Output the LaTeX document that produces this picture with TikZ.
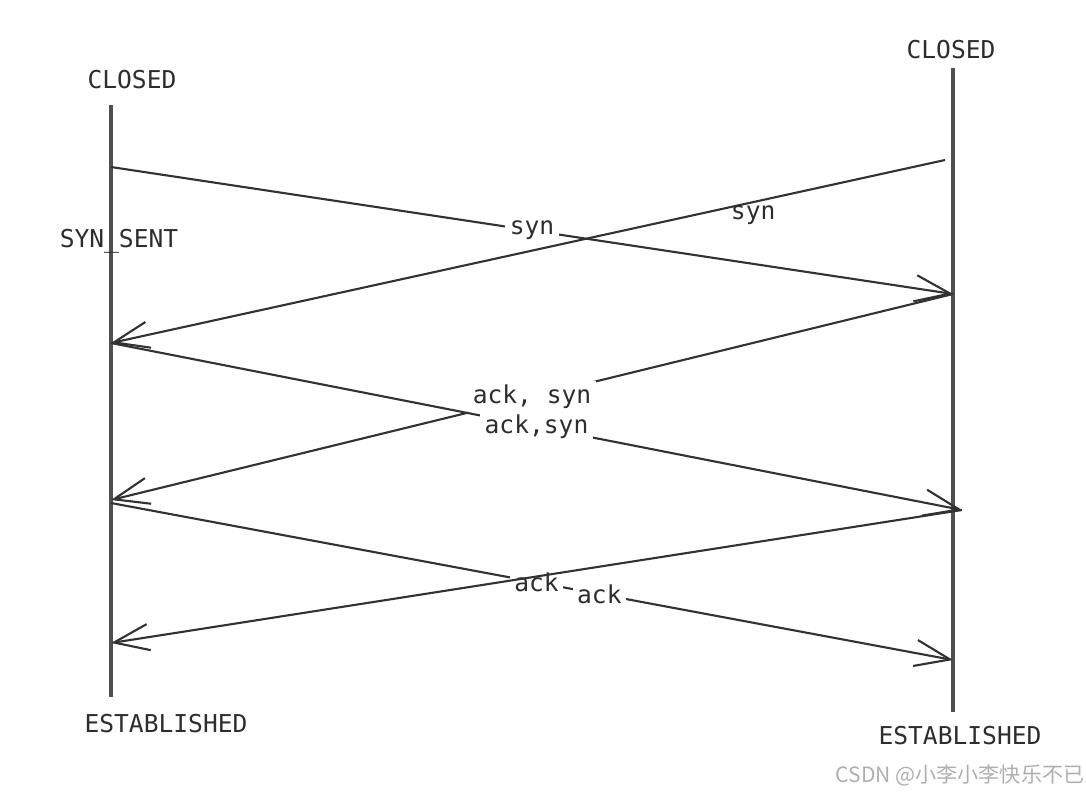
\documentclass[tikz,border=0pt]{standalone}
\usepackage{fontspec}
\setmonofont{DejaVu Sans Mono}
\newfontfamily\cjk{Noto Sans CJK SC}
\usetikzlibrary{arrows.meta, positioning, calc}
\definecolor{lineink}{RGB}{50, 50, 50}
\definecolor{poleink}{RGB}{80, 80, 80}
\definecolor{textink}{RGB}{45, 45, 45}
\definecolor{markgray}{RGB}{175, 175, 175}

\begin{document}
\begin{tikzpicture}[
  lifeline/.style={draw=poleink, line width=1.8pt},
  msg/.style={draw=lineink, line width=1.2pt, -{Straight Barb[length=20pt, width=15pt, line width=1.2pt]}},
  statelbl/.style={text=textink, font=\ttfamily\fontsize{14}{16}\selectfont, inner sep=1pt},
  msglbl/.style={text=textink, font=\ttfamily\fontsize{14}{16}\selectfont, inner sep=2.5pt},
  gap/.style={fill=white}
]
  \useasboundingbox (0, 0) rectangle (21.72, -15.84);

  % Two lifelines
  \coordinate (ltop) at (2.22, -2.10);
  \coordinate (lbot) at (2.22, -13.94);
  \coordinate (rtop) at (19.06, -1.36);
  \coordinate (rbot) at (19.06, -14.24);
  \draw[lifeline] (ltop) -- (lbot);
  \draw[lifeline] (rtop) -- (rbot);

  % States
  \node[statelbl] (lclosed) at (2.64, -1.60) {CLOSED};
  \node[statelbl] (rclosed) at (19.02, -1.00) {CLOSED};
  \node[statelbl] (synsent) at (2.38, -4.82) {SYN\_SENT};
  \node[statelbl] (lestab) at (3.32, -14.48) {ESTABLISHED};
  \node[statelbl] (restab) at (19.20, -14.72) {ESTABLISHED};

  % Message end points
  \coordinate (lsyn) at (2.22, -3.34);
  \coordinate (rsyn) at (18.90, -3.20);
  \coordinate (rsynin) at (19.06, -5.88);
  \coordinate (lsynin) at (2.22, -6.86);
  \coordinate (rack) at (19.24, -10.20);
  \coordinate (lackin) at (2.22, -10.00);
  \coordinate (lack) at (2.22, -10.06);
  \coordinate (rackin) at (19.06, -13.20);
  \coordinate (lfin) at (2.22, -12.86);

  % syn crossing
  \draw[msg] (lsyn) -- node[msglbl, gap, pos=0.5] (syna) {syn} (rsynin);
  \draw[msg] (rsyn) -- node[msglbl, pos=0.23, yshift=-0.27cm] (synb) {syn} (lsynin);

  % ack, syn crossing
  \draw[msg] (rsynin) -- node[msglbl, gap, pos=0.5] (acksyna) {ack, syn} (lackin);
  \draw[msg] (lsynin) -- node[msglbl, gap, pos=0.5] (acksynb) {ack,syn} (rack);

  % ack crossing
  \draw[msg] (lack) -- node[msglbl, gap, pos=0.58] (acka) {ack} (rackin);
  \draw[msg] (rack) -- node[msglbl, gap, behind path, pos=0.5, yshift=-0.12cm] (ackb) {ack} (lfin);

  % watermark
  \node[text=markgray, font=\cjk\fontsize{12}{14}\selectfont, inner sep=0pt] (mark) at (19.20, -15.50) {CSDN @小李小李快乐不已};
\end{tikzpicture}
\end{document}
